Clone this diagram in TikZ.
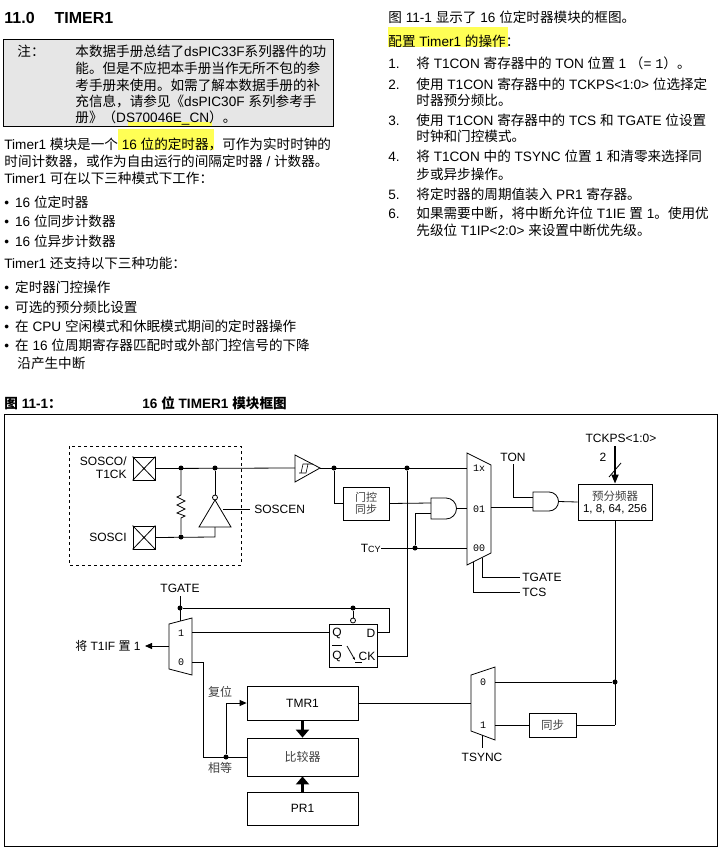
\documentclass[tikz,border=0pt]{standalone}
\usepackage{fontspec}
\setmainfont{Liberation Sans}
\setmonofont{Liberation Mono}
\newfontfamily\cjk{Noto Sans CJK SC}
\usetikzlibrary{arrows.meta}
\XeTeXinterchartokenstate=1
\newXeTeXintercharclass\CJKcls
\count255="3000
\loop \XeTeXcharclass\count255=\CJKcls \ifnum\count255<"303F \advance\count255 1 \repeat
\count255="4E00
\loop \XeTeXcharclass\count255=\CJKcls \ifnum\count255<"9FFF \advance\count255 1 \repeat
\count255="FF00
\loop \XeTeXcharclass\count255=\CJKcls \ifnum\count255<"FFEF \advance\count255 1 \repeat
\XeTeXinterchartoks 0 \CJKcls = {\begingroup\cjk}
\XeTeXinterchartoks 4095 \CJKcls = {\begingroup\cjk}
\XeTeXinterchartoks \CJKcls 0 = {\endgroup}
\XeTeXinterchartoks \CJKcls 4095 = {\endgroup}
\definecolor{hl}{HTML}{FFFF55}
\definecolor{notebg}{HTML}{E6E6E6}
\begin{document}
\begin{tikzpicture}[x=1pt,y=-1pt,
  tx/.style={font=\fontsize{13.6}{15}\selectfont, anchor=base west, inner sep=0},
  dl/.style={font=\fontsize{12}{13}\selectfont, inner sep=0},
  ml/.style={font=\ttfamily\fontsize{10}{11}\selectfont, inner sep=0},
  box/.style={draw, line width=0.8pt, inner sep=0, align=center},
  pad/.style={draw, line width=0.8pt, minimum width=22pt, minimum height=23pt, inner sep=0},
  dot/.style={circle, fill, inner sep=0, minimum size=5pt},
  tip/.style={-{Triangle[length=7pt,width=6pt]}},
  fat/.style={-{Triangle[length=8pt,width=13pt]}, line width=3.5pt},
  line width=0.8pt]
\useasboundingbox (0,0) rectangle (726,853);
% highlights
\fill[hl] (118,129) rectangle (214,150);
\fill[hl] (388,27) rectangle (508,47);
% left column
\node[anchor=base west, inner sep=0, font=\bfseries\fontsize{16}{18}\selectfont] (t) at (4,24) {11.0\hspace{20pt}TIMER1};
\fill[notebg] (3,39) rectangle (333,126);
\draw (3,39) rectangle (333,126);
\fill[hl] (128,122) rectangle (212,126);
\node[tx] (n0) at (17,57) {注：};
\node[tx] (n1) at (75,57) {本数据手册总结了dsPIC33F系列器件的功};
\node[tx] (n2) at (75,74) {能。但是不应把本手册当作无所不包的参};
\node[tx] (n3) at (75,91) {考手册来使用。如需了解本数据手册的补};
\node[tx] (n4) at (75,107) {充信息，请参见《dsPIC30F 系列参考手};
\node[tx] (n5) at (75,123) {册》（DS70046E\_CN）。};
\node[tx] (p1) at (4,150) {Timer1 模块是一个 16 位的定时器，可作为实时时钟的};
\node[tx] (p2) at (4,167) {时间计数器，或作为自由运行的间隔定时器 / 计数器。};
\node[tx] (p3) at (4,183) {Timer1 可在以下三种模式下工作：};
\node[tx] (b1) at (4,207) {•\hspace{6pt}16 位定时器};
\node[tx] (b2) at (4,226) {•\hspace{6pt}16 位同步计数器};
\node[tx] (b3) at (4,246) {•\hspace{6pt}16 位异步计数器};
\node[tx] (p4) at (4,268) {Timer1 还支持以下三种功能：};
\node[tx] (c1) at (4,292) {•\hspace{6pt}定时器门控操作};
\node[tx] (c2) at (4,312) {•\hspace{6pt}可选的预分频比设置};
\node[tx] (c3) at (4,331) {•\hspace{6pt}在 CPU 空闲模式和休眠模式期间的定时器操作};
\node[tx] (c4) at (4,350) {•\hspace{6pt}在 16 位周期寄存器匹配时或外部门控信号的下降};
\node[tx] (c5) at (17,368) {沿产生中断};
\node[tx, font=\bfseries\fontsize{13.6}{15}\selectfont] (f1) at (4,408) {图 11-1：};
\node[tx, font=\bfseries\fontsize{13.6}{15}\selectfont] (f2) at (142,408) {16 位 TIMER1 模块框图};
% right column
\node[tx] (r0) at (388,23) {图 11-1 显示了 16 位定时器模块的框图。};
\node[tx] (r1) at (388,47) {配置 Timer1 的操作：};
\foreach \n/\y in {1./69,2./90,3./126,4./162,5./199,6./218}
  \node[tx] at (388,\y) {\n};
\node[tx] (i1) at (416,69) {将 T1CON 寄存器中的 TON 位置 1 （= {\ttfamily 1}）。};
\node[tx] (i2) at (416,90) {使用 T1CON 寄存器中的 TCKPS<1:0> 位选择定};
\node[tx] (i2b) at (416,106) {时器预分频比。};
\node[tx] (i3) at (416,126) {使用 T1CON 寄存器中的 TCS 和 TGATE 位设置};
\node[tx] (i3b) at (416,142) {时钟和门控模式。};
\node[tx] (i4) at (416,162) {将 T1CON 中的 TSYNC 位置 1 和清零来选择同};
\node[tx] (i4b) at (416,179) {步或异步操作。};
\node[tx] (i5) at (416,199) {将定时器的周期值装入 PR1 寄存器。};
\node[tx] (i6) at (416,218) {如果需要中断，将中断允许位 T1IE 置 1。使用优};
\node[tx] (i6b) at (416,235) {先级位 T1IP<2:0> 来设置中断优先级。};
% ===== diagram =====
\draw (4,414) rectangle (717,846);
\draw[dashed] (69,446) rectangle (241,565);
\node[pad] (pa) at (144,468.5) {};
\node[pad] (pb) at (144,537.5) {};
\draw (pa.north west)--(pa.south east) (pa.north east)--(pa.south west);
\draw (pb.north west)--(pb.south east) (pb.north east)--(pb.south west);
\node[dl, anchor=east, align=right] (lsosco) at (127,468) {SOSCO/\\T1CK};
\node[dl, anchor=east] (lsosci) at (127,537) {SOSCI};
\coordinate (sbin) at (295,468);
\draw (pa.east) -- (sbin);
\node[dot] (d1) at (181,468) {};
\node[dot] (d2) at (215,468) {};
\node[dot] (d3) at (181,537) {};
\draw (d1) -- (181,495) -- (177,497) -- (185,501) -- (177,505) -- (185,509) -- (177,513) -- (185,516) -- (181,518) -- (d3);
\draw (pb.east) -- (215,537) -- (215,527);
\draw (199,527) -- (231,527) -- (215,500) -- cycle;
\draw (215,497.5) circle (2.5);
\draw (d2) -- (215,495);
\draw (223,509) -- (250,509);
\node[dl, anchor=west] (lsoscen) at (254,509) {SOSCEN};
% schmitt buffer
\draw (295,455) -- (320,468) -- (295,482) -- cycle;
\draw[line width=0.6pt] (299,473) -- (306,473) -- (308,464) -- (313,464) (301,473) -- (303,464) -- (308,464);
\node[dot] (d4) at (334,468) {};
\node[dot] (d5) at (407,468) {};
\draw (320,468) -- (467,468);
\node[box, minimum width=46pt, minimum height=33pt, font=\fontsize{11}{12}\selectfont, text=black!75] (gate) at (366,503.5) {门控\\同步};
\draw (d4) |- (gate.west);
% AND1
\draw (431,498) -- (446,498) arc (-90:90:10.5) -- (431,519) -- cycle;
\draw (gate.east) -- (431,503);
\node[dot] (d6) at (415,548) {};
\draw (431,513) -- (415,513) -- (d6);
\node[dl, anchor=east] (ltcy) at (381,548) {T{\fontsize{9}{10}\selectfont CY}};
\draw (ltcy.east) -- (467,548);
\draw (456.5,508.5) -- (467,508.5);
% mux1
\draw (467,453) -- (491,465) -- (491,553) -- (467,565) -- cycle;
\node[ml] at (479,468) {1x};
\node[ml] at (479,509) {01};
\node[ml] at (479,548) {00};
\draw (482,557.5) -- (482,577) -- (520,577);
\draw (473,562) -- (473,592) -- (520,592);
\node[dl, anchor=west] (ltg) at (522,577) {TGATE};
\node[dl, anchor=west] (ltcs) at (522,592) {TCS};
% AND2
\draw (491,507) -- (533,507);
\node[dl] (lton) at (513,457) {TON};
\draw (513,464) -- (513,497) -- (533,497);
\draw (533,492) -- (549,492) arc (-90:90:9.5) -- (533,511) -- cycle;
\node[box, minimum width=74pt, minimum height=36pt, font=\fontsize{11.5}{12}\selectfont] (pre) at (615,502) {{\color{black!75}预分频器}\\1, 8, 64, 256};
\draw (558.5,501.5) -- (pre.west);
\node[dl] (ltck) at (621,438) {TCKPS<1:0>};
\draw[-{Triangle[length=9pt,width=7pt]}, line width=1.6pt] (615,446) -- (pre.north);
\draw (609,477) -- (621,463);
\node[dl] (l2) at (603,457) {2};
\node[dot] (d7) at (615,682) {};
\draw (pre.south) -- (615,725);
% flip-flop
\node[box, minimum width=48pt, minimum height=43pt] (ff) at (353,645.5) {};
\node[dl] (lq) at (337,633) {Q};
\node[dl] (ld) at (371,633) {D};
\node[dl] (lqb) at (337,656) {Q};
\draw (332,645) -- (342,645);
\node[dl] (lck) at (367,656) {CK};
\draw[-{Stealth[length=3pt]}] (347,646) -- (355,660);
\draw (355,662) -- (362,662);
\draw (353,620.5) circle (2.5);
\node[dot] (d8) at (353,608) {};
\node[dot] (d9) at (180,608) {};
\draw (d8) -- (353,618);
\draw (377,632) -- (389,632) -- (389,608) -- (d9);
\draw (377,656) -- (407,656) -- (d5);
\node[dl] (ltg2) at (180,588) {TGATE};
\draw (180,596) -- (180,621);
% mux2
\draw (169,624) -- (192,618) -- (192,675) -- (169,669) -- cycle;
\node[ml] at (181,633) {1};
\node[ml] at (181,662) {0};
\draw (329,632) -- (192,632);
\draw[tip] (169,646) -- (145,646);
\node[dl, anchor=east] (lt1if) at (141,646) {将 T1IF 置 1};
% TMR1 / comparator / PR1
\node[box, minimum width=111pt, minimum height=34pt, font=\fontsize{12}{13}\selectfont] (tmr) at (302.5,703) {TMR1};
\node[box, minimum width=111pt, minimum height=38pt, font=\fontsize{12}{13}\selectfont] (cmp) at (302.5,757) {\color{black!75}比较器};
\node[box, minimum width=111pt, minimum height=33pt, font=\fontsize{12}{13}\selectfont] (pr) at (302.5,808.5) {PR1};
\draw[fat] (tmr.south) -- (cmp.north);
\draw[fat] (pr.north) -- (cmp.south);
\node[dot] (d10) at (226,757) {};
\draw (192,662) -- (203,662) -- (203,757) -- (cmp.west);
\draw[tip] (d10) -- (226,703) -- (tmr.west);
\node[dl, text=black!75] (lfw) at (220,692) {复位};
\node[dl, text=black!75] (lxd) at (220,768) {相等};
% mux3
\draw (471,675) -- (495,667) -- (495,740) -- (471,731) -- cycle;
\node[ml] at (483,682) {0};
\node[ml] at (483,725) {1};
\draw (tmr.east) -- (471,703);
\draw (495,682) -- (d7);
\node[box, minimum width=47pt, minimum height=24pt, font=\fontsize{11.5}{12}\selectfont, text=black!75] (sync) at (552.5,725) {同步};
\draw (495,725) -- (sync.west);
\draw (sync.east) -- (615,725);
\draw (482,735) -- (482,748);
\node[dl] (ltsync) at (482,757) {TSYNC};
\end{tikzpicture}
\end{document}
